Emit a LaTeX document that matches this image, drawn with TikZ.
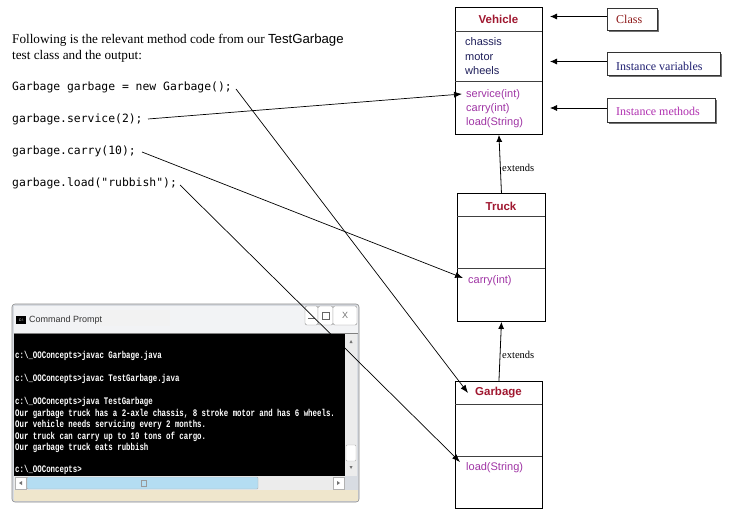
\documentclass[tikz,border=0pt]{standalone}
\usepackage{fontspec}
\usepackage{graphicx}
\setmainfont{Liberation Serif}
\setsansfont{Liberation Sans}
\setmonofont{DejaVu Sans Mono}
\newfontfamily\consfont{Liberation Mono}
\usetikzlibrary{arrows.meta,shadows}
\definecolor{umlred}{HTML}{A01830}
\definecolor{umlnavy}{HTML}{1E1E5A}
\definecolor{umlpurple}{HTML}{A035A5}
\definecolor{lblred}{HTML}{8E1A1A}
\definecolor{lblnavy}{HTML}{1E1E70}
\definecolor{lblpurple}{HTML}{B030B0}
\definecolor{winframe}{HTML}{D8DCE2}
\definecolor{wintitle}{HTML}{F2F3F5}
\definecolor{winbottom}{HTML}{EFE6CC}
\definecolor{scrollbg}{HTML}{ECECEC}
\definecolor{thumbblue}{HTML}{B4DDF2}
\newcommand\consline[1]{\scalebox{0.74}[1]{#1}}
\tikzset{
  umlbox/.style={draw=black, line width=0.9pt, fill=white, anchor=north west, inner sep=0pt},
  umlline/.style={draw=black!75, line width=0.9pt},
  umltitle/.style={font=\sffamily\bfseries\fontsize{11.5}{13}\selectfont, text=umlred},
  umlattr/.style={font=\sffamily\fontsize{11}{14.5}\selectfont, text=umlnavy, anchor=north west, align=left, inner sep=0pt},
  umlmeth/.style={font=\sffamily\fontsize{11}{14}\selectfont, text=umlpurple, anchor=north west, align=left, inner sep=0pt},
  lblbox/.style={draw=black!80, line width=0.7pt, fill=white, anchor=north west, inner sep=0pt,
     drop shadow={shadow xshift=1.5pt, shadow yshift=-1.5pt, fill=black!55, opacity=1}},
  lbltext/.style={font=\fontsize{12}{14}\selectfont, anchor=west, inner sep=0pt},
  arr/.style={-{Latex[length=7pt,width=6pt]}, line width=0.8pt},
  conn/.style={-{Latex[length=8pt,width=6pt]}, line width=0.7pt},
  codetext/.style={font=\ttfamily\fontsize{11.4}{13}\selectfont, anchor=base west, inner sep=0pt},
  constext/.style={font=\consfont\bfseries\fontsize{10}{10}\selectfont, text=white, anchor=base west, inner sep=0pt},
  extlbl/.style={font=\fontsize{10.5}{12}\selectfont, anchor=west, inner sep=0pt},
}
\begin{document}
\begin{tikzpicture}[x=1pt,y=-1pt]
\useasboundingbox[fill=white] (0,0) rectangle (730,518);

% ---------- intro text ----------
\node[font=\fontsize{13.2}{16}\selectfont, anchor=base west, inner sep=0pt] (intro1) at (12,44)
  {Following is the relevant method code from our \textsf{TestGarbage}};
\node[font=\fontsize{13.2}{16}\selectfont, anchor=base west, inner sep=0pt] (intro2) at (12,60)
  {test class and the output:};

% ---------- code lines ----------
\node[codetext] (c1) at (12,91) {Garbage garbage = new Garbage();};
\node[codetext] (c2) at (12,123) {garbage.service(2);};
\node[codetext] (c3) at (12,155) {garbage.carry(10);};
\node[codetext] (c4) at (12,187) {garbage.load("rubbish");};
\coordinate (s1) at (236,89);
\coordinate (s2) at (148,119);
\coordinate (s3) at (142,152);
\coordinate (s4) at (180,185);

% ---------- Vehicle ----------
\node[umlbox, minimum width=87pt, minimum height=127pt] (veh) at (455,7) {};
\draw[umlline] (455,31) -- (542,31);
\draw[umlline] (455,81) -- (542,81);
\node[umltitle] (vehT) at (498.5,19.5) {Vehicle};
\node[umlattr] (vehA) at (465,37.5) {chassis\\motor\\wheels};
\node[umlmeth] (vehM) at (466,89) {service(int)\\carry(int)\\load(String)};
\coordinate (vservice) at (462,94);

% ---------- Truck ----------
\node[umlbox, minimum width=88pt, minimum height=128pt] (tru) at (457,193) {};
\draw[umlline] (457,216) -- (545,216);
\draw[umlline] (457,268) -- (545,268);
\node[umltitle] (truT) at (501,206) {Truck};
\node[umlmeth] (truM) at (468,275) {carry(int)};
\coordinate (tcarry) at (463,278);

% ---------- Garbage ----------
\node[umlbox, minimum width=87pt, minimum height=127pt] (gar) at (455,381) {};
\draw[umlline] (455,404) -- (542,404);
\draw[umlline] (455,456) -- (542,456);
\node[umltitle] (garT) at (498.5,393) {Garbage};
\node[umlmeth] (garM) at (466,462) {load(String)};
\coordinate (gclass) at (468,393);
\coordinate (gload) at (460,462);

% ---------- inheritance ----------
\draw[arr] (tru.north) -- (veh.south);
\node[extlbl] (ext1) at (502,168) {extends};
\draw[arr] (gar.north) -- (tru.south);
\node[extlbl] (ext2) at (502,355) {extends};

% ---------- labels ----------
\node[lblbox, minimum width=50pt, minimum height=22pt] (lclass) at (607,8) {};
\node[lbltext, text=lblred] at (616,19.5) {Class};
\node[lblbox, minimum width=113pt, minimum height=23pt] (lvars) at (607,52) {};
\node[lbltext, text=lblnavy] at (616,66) {Instance variables};
\node[lblbox, minimum width=108pt, minimum height=24pt] (lmeth) at (607,98) {};
\node[lbltext, text=lblpurple] at (616,111) {Instance methods};
\coordinate (aclass) at (550,16.5);
\coordinate (avars) at (550,61.5);
\coordinate (ameth) at (550,108);
\draw[arr] (lclass.west |- aclass) -- (aclass);
\draw[arr] (lvars.west |- avars) -- (avars);
\draw[arr] (lmeth.west |- ameth) -- (ameth);

% ---------- command prompt window ----------
\draw[draw=black!45, fill=winframe, rounded corners=3pt, line width=0.6pt] (12,304) rectangle (359,502);
\fill[wintitle] (13.5,305.5) rectangle (357.5,333);
\fill[winbottom] (13.5,490) rectangle (357.5,500.5);
\fill[black!5] (95,310) rectangle (170,326);
\node[fill=black, minimum width=10pt, minimum height=8pt, inner sep=0pt] (icon) at (21,320) {};
\node[font=\sffamily\fontsize{3.5}{4}\selectfont, text=white, inner sep=0pt] at (21,320) {C:\textbackslash};
\node[font=\sffamily\fontsize{9}{10}\selectfont, text=black!80, anchor=west, inner sep=0pt] (title) at (29,320) {Command Prompt};
\draw[black!45, fill=white, rounded corners=2pt] (305,306) rectangle (318,325);
\draw[black!60, line width=0.8pt] (308,318) -- (315,318);
\draw[black!45, fill=white, rounded corners=2pt] (318,306) rectangle (333,325);
\draw[black!60] (322,312) rectangle (329,319);
\draw[black!45, fill=white, rounded corners=2pt] (333,306) rectangle (357,325);
\node[font=\sffamily\fontsize{9}{10}\selectfont, text=black!55, inner sep=0pt] at (345,315.5) {X};
\draw[black!50] (13.5,333.5) -- (357.5,333.5);
\fill[black] (14,334) rectangle (345,476);
% vertical scrollbar
\fill[scrollbg] (345,334) rectangle (357,476);
\fill[black!55] (349.5,343) -- (351,340) -- (352.5,343) -- cycle;
\draw[black!30, fill=white, rounded corners=1pt] (346,445) rectangle (356,461);
\fill[black!55] (349.5,466) -- (351,469) -- (352.5,466) -- cycle;
% horizontal scrollbar
\fill[scrollbg] (14,476) rectangle (345,490);
\draw[black!30, fill=white] (15,477) rectangle (26,489);
\fill[black!55] (22,481) -- (19,483) -- (22,485) -- cycle;
\draw[black!30, fill=thumbblue, rounded corners=1pt] (27,477) rectangle (258,489);
\draw[black!40] (141,480) rectangle (146,486);
\draw[black!30, fill=white] (333,477) rectangle (344,489);
\fill[black!55] (337,481) -- (340,483) -- (337,485) -- cycle;
% console text
\node[constext] (o1) at (15,358) {\consline{c:\textbackslash\_OOConcepts>javac Garbage.java}};
\node[constext] (o2) at (15,381) {\consline{c:\textbackslash\_OOConcepts>javac TestGarbage.java}};
\node[constext] (o3) at (15,404) {\consline{c:\textbackslash\_OOConcepts>java TestGarbage}};
\node[constext] (o4) at (15,416) {\consline{Our garbage truck has a 2-axle chassis, 8 stroke motor and has 6 wheels.}};
\node[constext] (o5) at (15,427.5) {\consline{Our vehicle needs servicing every 2 months.}};
\node[constext] (o6) at (15,439) {\consline{Our truck can carry up to 10 tons of cargo.}};
\node[constext] (o7) at (15,450.5) {\consline{Our garbage truck eats rubbish}};
\node[constext] (o8) at (15,472) {\consline{c:\textbackslash\_OOConcepts>}};

% ---------- connectors ----------
\draw[conn] (s1) -- (gclass);
\draw[conn] (s2) -- (vservice);
\draw[conn] (s3) -- (tcarry);
\draw[conn] (s4) -- (gload);
\end{tikzpicture}
\end{document}
